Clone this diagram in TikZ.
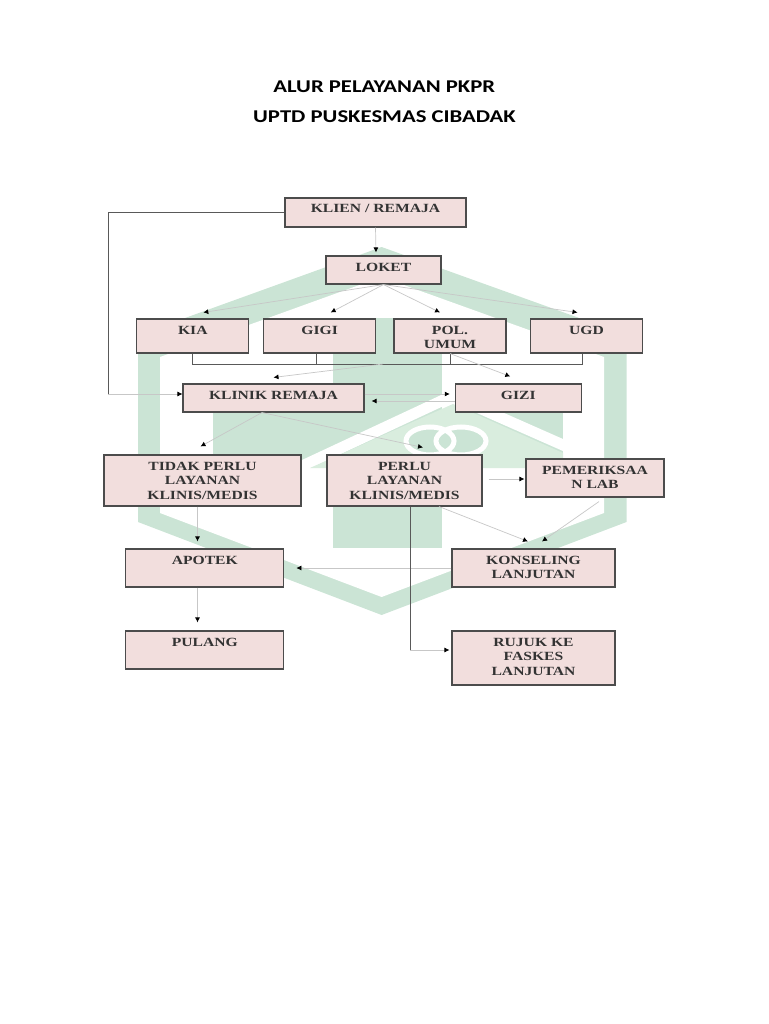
\documentclass[tikz,border=0pt]{standalone}
\usepackage{fontspec}
\setmainfont[FakeStretch=1.25]{Liberation Serif}
\newfontfamily\judul[FakeStretch=1.26]{Carlito}
\usetikzlibrary{arrows.meta}
\definecolor{hijau}{HTML}{CBE4D5}
\definecolor{hijaumuda}{HTML}{D9EDDE}
\definecolor{kotakisi}{HTML}{F2DEDD}
\newcommand{\Isi}[3]{\parbox[c][#2pt][t]{#1pt}{\centering\rule{0pt}{15pt}#3}}
\tikzset{kotak/.style={draw=black!70,line width=1.1pt,fill=kotakisi,inner sep=0pt,text=black!80,font=\fontsize{12.5}{14.7}\selectfont\bfseries},
  garis/.style={draw=black!65,line width=.9pt},
  panah/.style={draw=black!22,line width=.7pt,-{Latex[black,length=5pt,width=5pt]}},
  judulteks/.style={font=\fontsize{18}{20}\selectfont\judul\bfseries}}
\begin{document}
\begin{tikzpicture}[x=1pt,y=-1pt]
      \useasboundingbox (0,0) rectangle (768,1024);
      \fill[hijau] (381.6,247) -- (626.5,335) -- (626.5,522) -- (381.6,615) -- (138,522) -- (138,335) -- cycle;
      \fill[white] (381.6,277) -- (604,357) -- (604,513) -- (381.6,597) -- (160,513) -- (160,357) -- cycle;
      \fill[hijau] (333,318) rectangle (442,548);
      \fill[hijau] (213,412) rectangle (563,468);
      \draw[white,line width=11pt] (300,467) -- (452,396) -- (572,449);
      \fill[hijaumuda] (310,468) -- (453,404) -- (563,453) -- (563,468) -- cycle;
      \draw[white,fill=hijau,line width=5pt] (430,441) ellipse (24 and 14) (461,441) ellipse (25 and 14);

      \node[judulteks] (judul1) at (384.3,87) {ALUR PELAYANAN PKPR};
      \node[judulteks] (judul2) at (384.5,117) {UPTD PUSKESMAS CIBADAK};

      \node[kotak] (klien) at (375.5,212.5) {\Isi{181}{29}{KLIEN / REMAJA}}; \node[kotak] (loket) at (383.5,270) {\Isi{115}{28}{LOKET}};
      \node[kotak] (kia) at (192.8,336) {\Isi{112}{34}{KIA}}; \node[kotak] (gigi) at (319.7,336) {\Isi{112}{34}{GIGI}}; \node[kotak] (pol) at (450,336) {\Isi{112}{34}{POL.\\UMUM}}; \node[kotak] (ugd) at (586.5,336) {\Isi{112}{34}{UGD}};
      \node[kotak] (klinik) at (273.5,398) {\Isi{181}{28}{KLINIK REMAJA}}; \node[kotak] (gizi) at (518.3,398) {\Isi{126}{28}{GIZI}};
      \node[kotak] (tidak) at (202.5,480.5) {\Isi{197}{51}{TIDAK PERLU\\LAYANAN\\KLINIS/MEDIS}}; \node[kotak] (perlu) at (404.5,480.5) {\Isi{155}{51}{PERLU\\LAYANAN\\KLINIS/MEDIS}}; \node[kotak] (pemeriksaan) at (595,478) {\Isi{138}{38}{PEMERIKSAA\\N LAB}};
      \node[kotak] (apotek) at (204.8,568) {\Isi{158}{38}{APOTEK}}; \node[kotak] (konseling) at (533.5,568) {\Isi{163}{38}{KONSELING\\LANJUTAN}};
      \node[kotak] (pulang) at (204.8,650) {\Isi{158}{38}{PULANG}}; \node[kotak] (rujuk) at (533.5,658) {\Isi{163}{54}{RUJUK KE\\FASKES\\LANJUTAN}};

      \coordinate (sudut) at (108,394); \coordinate (bus) at (383,364); \coordinate (belok) at (410,650);

      \draw[garis] (klien.west) -| (sudut); \draw[panah] (sudut) -- ([yshift=4pt]klinik.west);
      \draw[panah] (klien.south) -- ([yshift=3pt,xshift=-7.5pt]loket.north);
      \draw[panah] (loket.south) -- ([xshift=10.5pt,yshift=6pt]kia.north); \draw[panah] (loket.south) -- ([xshift=11pt,yshift=6pt]gigi.north); \draw[panah] (loket.south) -- ([xshift=-10pt,yshift=6pt]pol.north); \draw[panah] (loket.south) -- ([xshift=-9pt,yshift=6pt]ugd.north);
      \draw[garis] (kia.south) -- ++(0,11) -| ([xshift=-4.5pt]ugd.south); \draw[garis] ([xshift=-3.5pt]gigi.south) -- ++(0,11); \draw[garis] (pol.south) -- ++(0,11);
      \draw[panah] (bus) -- ([yshift=6pt]klinik.north); \draw[panah] (pol.south) -- ([xshift=-8pt,yshift=7pt]gizi.north);
      \draw[panah] ([yshift=4pt]klinik.east) -- ([xshift=-5pt,yshift=4pt]gizi.west); \draw[panah] ([yshift=-3pt]gizi.west) -- ([xshift=7pt,yshift=-3pt]klinik.east);
      \draw[panah] ([xshift=-11.5pt]klinik.south) -- ([xshift=-2pt,yshift=8pt]tidak.north); \draw[panah] ([xshift=-11.5pt]klinik.south) -- ([xshift=18.5pt,yshift=7pt]perlu.north);
      \draw[panah] ([xshift=6pt,yshift=1.5pt]perlu.east) -- ([xshift=-1pt,yshift=-1pt]pemeriksaan.west);
      \draw[panah] ([xshift=-5pt]tidak.south) -- ([xshift=-7.3pt,yshift=7pt]apotek.north);
      \draw[panah] ([xshift=34.5pt]perlu.south) -- ([xshift=-5.5pt,yshift=7pt]konseling.north); \draw[panah] ([xshift=4pt,yshift=-4pt]pemeriksaan.south) -- ([xshift=8.5pt,yshift=7pt]konseling.north);
      \draw[panah] (konseling.west) -- ([xshift=12pt]apotek.east);
      \draw[panah] ([xshift=-7.3pt]apotek.south) -- ([xshift=-7.3pt,yshift=8pt]pulang.north);
      \draw[garis] ([xshift=5.5pt]perlu.south) -- (belok); \draw[panah] (belok) -- ([xshift=-2pt,yshift=8pt]rujuk.west);
    \end{tikzpicture}
\end{document}
